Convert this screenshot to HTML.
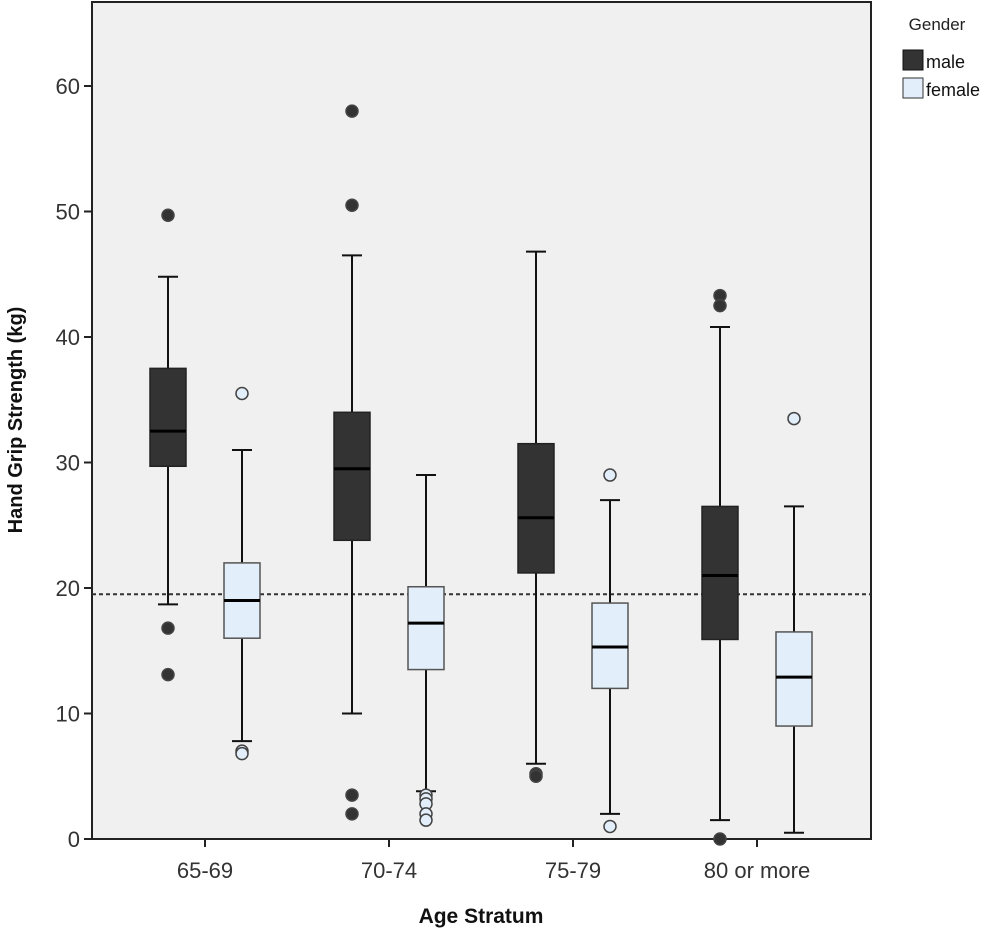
<!DOCTYPE html>
<html><head><meta charset="utf-8"><style>
body{margin:0;background:#fff;}
svg text{font-family:"Liberation Sans",sans-serif;}
</style></head><body>
<svg id="chart" width="995" height="932" viewBox="0 0 995 932">
<rect x="92" y="2" width="779" height="837" fill="#f0f0f0" stroke="#222" stroke-width="2"/>
<g id="axes"></g>
<g id="marks"></g>
<text x="22" y="420" transform="rotate(-90 22 420)" text-anchor="middle" font-size="20" font-weight="bold" fill="#111">Hand Grip Strength (kg)</text>
<text x="481" y="923" text-anchor="middle" font-size="21" font-weight="bold" fill="#111">Age Stratum</text>
<g>
<text x="937" y="30" text-anchor="middle" font-size="17" fill="#222">Gender</text>
<rect x="903" y="50" width="20" height="20" fill="#333" stroke="#111"/>
<text x="926" y="68" font-size="18" fill="#111">male</text>
<rect x="903" y="78" width="20" height="20" fill="#e2eefa" stroke="#333"/>
<text x="926" y="96" font-size="18" fill="#111">female</text>
</g>
</svg>
<script>
const categories=["65-69","70-74","75-79","80 or more"];
const yTicks=[0,10,20,30,40,50,60];
const refLine=19.5;
const maleLow=[18.7,10,6,1.5];
const maleQ1=[29.7,23.8,21.2,15.9];
const maleMed=[32.5,29.5,25.6,21];
const maleQ3=[37.5,34,31.5,26.5];
const maleHigh=[44.8,46.5,46.8,40.8];
const maleOut=[[49.7,16.8,13.1],[58,50.5,3.5,2],[5.2,5],[43.3,42.5,0]];
const femaleLow=[7.8,3.8,2,0.5];
const femaleQ1=[16,13.5,12,9];
const femaleMed=[19,17.2,15.3,12.9];
const femaleQ3=[22,20.1,18.8,16.5];
const femaleHigh=[31,29,27,26.5];
const femaleOut=[[35.5,7,6.8],[3.5,3.2,2.8,2,1.5],[29,1],[33.5]];

const NS="http://www.w3.org/2000/svg";
const y=v=>839-v*12.55;
const x=i=>205+i*184;
function mk(tag,attrs,parent){const e=document.createElementNS(NS,tag);for(const k in attrs)e.setAttribute(k,attrs[k]);parent.appendChild(e);return e;}
const axes=document.getElementById('axes'),marks=document.getElementById('marks');
yTicks.forEach(t=>{
  const l=mk('line',{x1:84,x2:92,y1:y(t),y2:y(t),stroke:'#222','stroke-width':2},axes);
  
  
  const tx=mk('text',{x:80,y:y(t)+8,'text-anchor':'end','font-size':22,fill:'#333'},axes);
  tx.textContent=t;
  
  
});
categories.forEach((c,i)=>{
  const l=mk('line',{x1:x(i),x2:x(i),y1:839,y2:847,stroke:'#222','stroke-width':2},axes);
  
  
  const tx=mk('text',{x:x(i),y:878,'text-anchor':'middle','font-size':22,fill:'#333'},axes);
  tx.textContent=c;
  
  
});
const rl=mk('line',{x1:92,x2:871,y1:y(refLine),y2:y(refLine),stroke:'#333','stroke-width':2,'stroke-dasharray':'4,3'},marks);


function box(cx,lo,q1,md,q3,hi,outs,fill,stroke,ofill,name){
  const g=mk('g',{},marks);
  
  
  mk('line',{x1:cx,x2:cx,y1:y(hi),y2:y(lo),stroke:'#111','stroke-width':2},g);
  mk('line',{x1:cx-10,x2:cx+10,y1:y(hi),y2:y(hi),stroke:'#111','stroke-width':2},g);
  mk('line',{x1:cx-10,x2:cx+10,y1:y(lo),y2:y(lo),stroke:'#111','stroke-width':2},g);
  mk('rect',{x:cx-18,y:y(q3),width:36,height:y(q1)-y(q3),fill:fill,stroke:stroke,'stroke-width':1.5},g);
  mk('line',{x1:cx-18,x2:cx+18,y1:y(md),y2:y(md),stroke:'#000','stroke-width':3},g);
  outs.forEach(o=>{
    const c=mk('circle',{cx:cx,cy:y(o),r:6,fill:ofill,stroke:'#444','stroke-width':1.5},g);
    
    
  });
}
categories.forEach((c,i)=>{
  box(x(i)-37,maleLow[i],maleQ1[i],maleMed[i],maleQ3[i],maleHigh[i],maleOut[i],'#333','#222','#333','box-male-'+i);
  box(x(i)+37,femaleLow[i],femaleQ1[i],femaleMed[i],femaleQ3[i],femaleHigh[i],femaleOut[i],'#e2eefa','#555','#e2eefa','box-female-'+i);
});
</script>
</body></html>
